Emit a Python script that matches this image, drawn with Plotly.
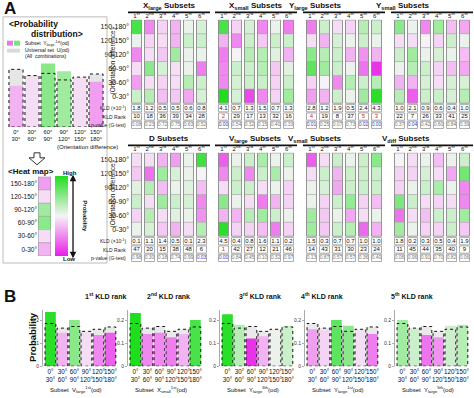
import plotly.graph_objects as go
from plotly.colors import sample_colorscale

W, H = 474, 398
FONT = "Arial, 'Liberation Sans', sans-serif"

# ---------------- data ----------------
ANGLE_LABELS = ["0-30°", "30-60°", "60-90°", "90-120°", "120-150°", "150-180°"]
ORDINALS = ["1<sup>st</sup>", "2<sup>nd</sup>", "3<sup>rd</sup>", "4<sup>th</sup>", "5<sup>th</sup>", "6<sup>th</sup>"]
BAR_TICKS = ["0°<br>30°", "30°<br>60°", "60°<br>90°", "90°<br>120°", "120°<br>150°", "150°<br>180°"]

# heat values per subset column, listed top (150-180°) -> bottom (0-30°); >0 green (high), <0 magenta (low)
X_LARGE = [[0.8, 0.05, -0.5, -0.1, -0.4, 0.2], [-0.5, -0.15, -0.1, 0.5, -0.1, 0.3],
           [-0.15, -0.1, -0.2, 0.15, -0.15, -0.25], [-0.3, -0.3, 0.4, -0.1, -0.1, -0.2],
           [0.05, 0.2, 0.05, 0.05, 0.3, -0.35], [0.15, 0.2, 0.05, -0.55, 0.2, 0.15]]
X_LARGE_KLD = [1.8, 1.2, 0.5, 0.5, 0.6, 0.8]
X_LARGE_RANK = [10, 18, 36, 39, 34, 28]
X_LARGE_P = [0.08, 0.23, 0.72, 0.75, 0.63, 0.52]

X_SMALL = [[0.8, -0.3, -0.55, -0.5, -0.5, 1.0], [-0.15, -0.5, 0.0, 0.2, 0.15, 0.15],
           [0.15, 0.2, 0.3, 0.2, 0.2, -0.8], [-0.5, -0.2, 0.3, 0.3, 0.2, -0.5],
           [0.05, 0.2, 0.1, -0.2, -0.15, -0.15], [-0.55, 0.2, -0.3, 0.1, 0.2, 0.4]]
X_SMALL_KLD = [4.1, 0.7, 1.3, 1.5, 0.7, 1.3]
X_SMALL_RANK = [2, 29, 17, 13, 32, 16]
X_SMALL_P = [0.00, 0.54, 0.32, 0.15, 0.40, 0.33]

Y_LARGE = [[-0.55, -0.1, 0.5, 0.7, -0.15, -0.4], [0.2, -0.3, 0.3, 0.4, 0.0, -0.3],
           [-0.1, 0.15, 0.2, 0.2, -0.5, 0.2], [-0.15, 0.05, -0.3, 0.05, 0.3, 0.05],
           [0.3, 0.2, -0.45, -0.6, 0.2, 0.4], [0.2, 0.05, -0.3, -0.9, 0.3, 0.95]]
Y_LARGE_KLD = [2.8, 1.2, 1.9, 0.5, 2.4, 4.3]
Y_LARGE_RANK = [4, 19, 8, 37, 5, 3]
Y_LARGE_P = [0.01, 0.25, 0.07, 0.73, 0.02, 0.00]

Y_SMALL = [[0.5, -0.1, 0.2, 0.05, -0.3, 0.3], [0.05, -0.1, 0.4, 0.3, -0.3, -0.7],
           [-0.5, 0.0, 0.05, 0.2, 0.15, 0.2], [0.4, -0.15, 0.15, -0.15, -0.1, 0.2],
           [-0.25, 0.2, 0.05, -0.25, 0.15, 0.15], [-0.35, 0.05, -0.25, -0.35, 0.15, 0.3]]
Y_SMALL_KLD = [1.0, 2.1, 0.9, 0.6, 0.4, 1.0]
Y_SMALL_RANK = [22, 7, 26, 33, 41, 25]
Y_SMALL_P = [0.37, 0.04, 0.42, 0.60, 0.84, 0.39]

D_SUB = [[-0.1, -0.2, 0.1, 0.2, -0.15, 0.05], [-0.1, -0.6, 0.3, -0.1, 0.3, 0.15],
         [-0.3, 0.4, -0.25, 0.4, -0.1, -0.2], [-0.4, 0.15, 0.05, 0.2, 0.1, -0.3],
         [0.05, 0.05, 0.1, 0.15, 0.05, -0.1], [0.85, 0.0, -0.25, -0.5, -0.45, 0.3]]
D_KLD = [0.1, 1.1, 1.4, 0.5, 0.1, 2.3]
D_RANK = [47, 20, 15, 38, 48, 6]
D_P = [0.98, 0.30, 0.18, 0.74, 0.99, 0.03]

V_LARGE = [[-0.7, -0.5, -0.1, 0.5, -0.3, 0.95], [0.05, 0.2, 0.2, 0.05, -0.3, -0.15],
           [0.2, -0.5, 0.2, -0.1, 0.3, -0.15], [0.35, 0.2, -0.1, -0.55, 0.4, -0.25],
           [0.05, 0.35, 0.05, -0.3, 0.2, -0.55], [0.2, 0.05, -0.15, -0.15, 0.05, -0.15]]
V_LARGE_KLD = [4.5, 0.4, 0.8, 1.6, 1.1, 0.2]
V_LARGE_RANK = [1, 42, 27, 12, 21, 46]
V_LARGE_P = [0.00, 0.84, 0.45, 0.10, 0.32, 0.97]

V_SMALL = [[-0.7, -0.1, 0.05, 0.05, 0.4, 0.4], [-0.1, 0.2, 0.15, -0.15, -0.2, -0.2],
           [0.2, -0.3, -0.35, 0.2, 0.05, 0.2], [0.05, 0.2, 0.2, 0.45, -0.35, 0.3],
           [0.2, 0.2, 0.2, -0.15, -0.1, -0.65], [0.5, 0.2, 0.2, -0.25, 0.05, -0.3]]
V_SMALL_KLD = [1.5, 0.3, 0.7, 0.7, 1.0, 1.0]
V_SMALL_RANK = [14, 43, 31, 30, 23, 24]
V_SMALL_P = [0.13, 0.87, 0.57, 0.57, 0.36, 0.40]

V_DIFF = [[0.0, -0.15, -0.15, 0.55, -0.6, 0.4], [-0.1, -0.15, 0.05, 0.2, -0.1, 0.05],
          [0.05, 0.15, 0.2, -0.1, -0.25, -0.15], [-0.25, -0.1, 0.35, -0.15, 0.2, -0.15],
          [0.05, -0.35, 0.05, -0.1, 0.2, 0.2], [0.2, 0.6, -0.5, -0.5, 0.4, -0.2]]
V_DIFF_KLD = [1.8, 0.2, 0.3, 0.5, 0.4, 1.9]
V_DIFF_RANK = [11, 45, 44, 35, 40, 9]
V_DIFF_P = [0.06, 0.96, 0.91, 0.70, 0.82, 0.06]

# schematic example (left box)
EXAMPLE_HEAT = [-0.4, -0.1, 0.4, 0.5, -0.1, -0.3]          # top -> bottom
EXAMPLE_SUBSET = [0.132, 0.157, 0.204, 0.179, 0.157, 0.145]  # 0-30 ... 150-180
UNIVERSAL = [0.185, 0.165, 0.172, 0.151, 0.160, 0.170]

# part B: top-5 KLD subsets
B_TITLES = ["1<sup>st</sup> KLD rank", "2<sup>nd</sup> KLD rank", "3<sup>rd</sup> KLD rank",
            "4<sup>th</sup> KLD rank", "5<sup>th</sup> KLD rank"]
B_SUBSETS = ["Subset  V<sub>large</sub><sup>1st</sup>(od)", "Subset  X<sub>small</sub><sup>1st</sup>(od)",
             "Subset  Y<sub>large</sub><sup>6th</sup>(od)", "Subset  Y<sub>large</sub><sup>1st</sup>(od)",
             "Subset  Y<sub>large</sub><sup>5th</sup>(od)"]
B1 = [0.235, 0.145, 0.200, 0.146, 0.135, 0.145]
B2 = [0.230, 0.140, 0.145, 0.125, 0.140, 0.200]
B3 = [0.225, 0.180, 0.120, 0.130, 0.155, 0.175]
B4 = [0.160, 0.155, 0.200, 0.175, 0.155, 0.140]
B5 = [0.200, 0.160, 0.135, 0.125, 0.175, 0.180]

# ---------------- helpers ----------------
def fx(p):
    return p / W

def fy(p):
    return 1 - p / H

CS = [[0.0, "rgb(232,30,232)"], [0.5, "rgb(246,243,246)"], [1.0, "rgb(30,222,30)"]]

def heat_color(v):
    t = min(max((v + 1) / 2, 0), 1)
    return sample_colorscale(CS, [t])[0]

def names(n):
    if n == 1:
        return "x", "y", "xaxis", "yaxis"
    return f"x{n}", f"y{n}", f"xaxis{n}", f"yaxis{n}"

fig = go.Figure()
shapes, annots, layout = [], [], {}

def ann(x, y, text, size, **kw):
    d = dict(x=fx(x), y=fy(y), xref="paper", yref="paper", text=text, showarrow=False,
             yanchor="middle", font=dict(size=size, family=FONT, color=kw.pop("color", "#111")))
    d.update(kw)
    annots.append(d)

PANELS = [
    ("X<sub>large</sub> Subsets", X_LARGE, X_LARGE_KLD, X_LARGE_RANK, X_LARGE_P),
    ("X<sub>small</sub> Subsets", X_SMALL, X_SMALL_KLD, X_SMALL_RANK, X_SMALL_P),
    ("Y<sub>large</sub> Subsets", Y_LARGE, Y_LARGE_KLD, Y_LARGE_RANK, Y_LARGE_P),
    ("Y<sub>small</sub> Subsets", Y_SMALL, Y_SMALL_KLD, Y_SMALL_RANK, Y_SMALL_P),
    ("D Subsets", D_SUB, D_KLD, D_RANK, D_P),
    ("V<sub>large</sub> Subsets", V_LARGE, V_LARGE_KLD, V_LARGE_RANK, V_LARGE_P),
    ("V<sub>small</sub> Subsets", V_SMALL, V_SMALL_KLD, V_SMALL_RANK, V_SMALL_P),
    ("V<sub>diff</sub> Subsets", V_DIFF, V_DIFF_KLD, V_DIFF_RANK, V_DIFF_P),
]
PANEL_X = [(130, 208), (217, 295), (305, 383), (393, 471)]
ROW_TOP = [20, 154]        # pixel top of heat cells
TITLE_Y = [6, 140]
UNIT = 14.0                # px per heat row
YR = [-2.4, 5.5]
TBL_Y = [-0.86, -1.46, -2.06]
GX = 1.5 / 13.0

for k, (title, cols, kld, rank, pv) in enumerate(PANELS):
    n = k + 1
    xa, ya, xk, yk = names(n)
    row = k // 4
    x0, x1 = PANEL_X[k % 4]
    top = ROW_TOP[row]
    bottom = top + (YR[1] - YR[0]) * UNIT
    z = [[cols[c][5 - r] for c in range(6)] for r in range(6)]
    fig.add_trace(go.Heatmap(z=z, x=list(range(6)), y=list(range(6)), colorscale=CS, zmin=-1, zmax=1,
                             showscale=False, xgap=3, ygap=0, xaxis=xa, yaxis=ya, hoverinfo="skip"))
    first = (k % 4 == 0)
    layout[xk] = dict(domain=[fx(x0), fx(x1)], range=[-0.5, 5.5], side="top", anchor=ya,
                      tickvals=list(range(6)), ticktext=ORDINALS, ticks="", showgrid=False, tickangle=0,
                      zeroline=False, showline=False, tickfont=dict(size=6, family=FONT, color="#111"))
    layout[yk] = dict(domain=[fy(bottom), fy(top)], range=YR, anchor=xa, showgrid=False, zeroline=False,
                      showline=False, ticks="", showticklabels=first, tickvals=list(range(6)),
                      ticktext=ANGLE_LABELS, tickfont=dict(size=7, family=FONT, color="#111"))
    # cell borders
    for c in range(6):
        shapes.append(dict(type="rect", xref=xa, yref=ya, x0=c - 0.5 + GX, x1=c + 0.5 - GX, y0=-0.5, y1=5.5,
                           line=dict(color="#8a8a8a", width=0.9)))
        for r in range(5):
            shapes.append(dict(type="line", xref=xa, yref=ya, x0=c - 0.5 + GX, x1=c + 0.5 - GX,
                               y0=r + 0.5, y1=r + 0.5, line=dict(color="#a0a0a0", width=0.6)))
        for yc in TBL_Y:
            shapes.append(dict(type="rect", xref=xa, yref=ya, x0=c - 0.5 + GX, x1=c + 0.5 - GX,
                               y0=yc - 0.26, y1=yc + 0.26, line=dict(color="#8a8a8a", width=0.7)))
    # table text, one trace per table row
    rows_txt = [[f"{v:.1f}" for v in kld], [str(v) for v in rank], [f"{v:.2f}" for v in pv]]
    rows_col = [["#111"] * 6, ["#e0201a" if v <= 5 else "#111" for v in rank],
                ["#3344cc" if v < 0.05 else "#777" for v in pv]]
    for j, yc in enumerate(TBL_Y):
        fig.add_trace(go.Scatter(x=list(range(6)), y=[yc] * 6, text=rows_txt[j], mode="text", xaxis=xa,
                                 yaxis=ya, hoverinfo="skip", cliponaxis=False, showlegend=False,
                                 textfont=dict(size=6 if j < 2 else 5, color=rows_col[j], family=FONT)))
    # title + underline
    ann((x0 + x1) / 2, TITLE_Y[row], f"<b>{title}</b>", 8)
    shapes.append(dict(type="line", xref="paper", yref="paper", x0=fx(x0 - 2), x1=fx(x1 + 2),
                       y0=fy(TITLE_Y[row] + 6.5), y1=fy(TITLE_Y[row] + 6.5), line=dict(color="#111", width=1.6)))
    if first:
        for txt, yc in zip(["KLD (×10<sup>-1</sup>)", "KLD Rank", "p-value (G-test)"], TBL_Y):
            annots.append(dict(x=fx(128), y=yc, xref="paper", yref=ya, text=txt, showarrow=False,
                               xanchor="right", yanchor="middle", font=dict(size=5, family=FONT, color="#222")))
        ann(107, top + 42, "(Orientation difference)", 6.5, textangle=-90)

# ---------------- left box ----------------
shapes.append(dict(type="rect", xref="paper", yref="paper", x0=fx(3), x1=fx(107), y0=fy(17), y1=fy(265),
                   line=dict(color="#bbbbbb", width=1)))
ann(2, 9, "<b>A</b>", 17, xanchor="left")
ann(7, 24, "<b>&lt;Probability</b>", 8.5, xanchor="left")
ann(29, 34, "<b>distribution&gt;</b>", 8.5, xanchor="left")
shapes.append(dict(type="rect", xref="paper", yref="paper", x0=fx(7), x1=fx(13), y0=fy(46), y1=fy(41),
                   fillcolor=heat_color(-0.6), line=dict(width=0)))
shapes.append(dict(type="rect", xref="paper", yref="paper", x0=fx(14), x1=fx(20), y0=fy(46), y1=fy(41),
                   fillcolor=heat_color(0.6), line=dict(width=0)))
ann(23, 43.5, "Subset  Y<sub>large</sub><sup>-1st</sup>(od)", 5, xanchor="left")
shapes.append(dict(type="rect", xref="paper", yref="paper", x0=fx(7), x1=fx(20), y0=fy(53), y1=fy(49),
                   fillcolor="#d9d9d9", line=dict(width=0)))
ann(23, 50, "Universal set  U(od)", 5, xanchor="left")
ann(23, 56, "(All  combinations)", 5, xanchor="left")

# example bar chart (axis 9)
xa, ya, xk, yk = names(9)
ex_colors = [heat_color(v) for v in EXAMPLE_HEAT[::-1]]
BW = 0.88
fig.add_trace(go.Bar(x=list(range(6)), y=UNIVERSAL, width=BW, marker=dict(color="#e6e6e6", line=dict(width=0)),
                     xaxis=xa, yaxis=ya, hoverinfo="skip", showlegend=False))
fig.add_trace(go.Bar(x=list(range(6)), y=EXAMPLE_SUBSET, width=BW, marker=dict(color=ex_colors, line=dict(width=0)),
                     xaxis=xa, yaxis=ya, hoverinfo="skip", showlegend=False))

def outline(vals, w):
    xs, ys = [], []
    for i, u in enumerate(vals):
        xs += [i - w / 2, i - w / 2, i + w / 2, i + w / 2, i - w / 2, None]
        ys += [0, u, u, 0, 0, None]
    return xs, ys

ox, oy = outline(UNIVERSAL, BW)
fig.add_trace(go.Scatter(x=ox, y=oy, mode="lines", line=dict(color="#111", width=1, dash="dot"),
                         xaxis=xa, yaxis=ya, hoverinfo="skip", showlegend=False))
layout[xk] = dict(domain=[fx(8), fx(104)], range=[-0.5, 5.5], anchor=ya, tickvals=list(range(6)),
                  ticktext=BAR_TICKS, ticks="", showgrid=False, zeroline=False, showline=False, tickangle=0,
                  tickfont=dict(size=5.8, family=FONT, color="#111"))
layout[yk] = dict(domain=[fy(128), fy(62)], range=[0, 0.21], anchor=xa, visible=False)
ann(55, 148.5, "(Orientation difference)", 6)

# hollow arrow
pts = [(34, 154), (40, 154), (40, 159), (45, 159), (37, 166), (29, 159), (34, 159)]
path = "M " + " L ".join(f"{fx(a):.5f},{fy(b):.5f}" for a, b in pts) + " Z"
shapes.append(dict(type="path", xref="paper", yref="paper", path=path, line=dict(color="#333", width=1),
                   fillcolor="white"))
ann(6, 173, "<b>&lt;Heat map&gt;</b>", 8, xanchor="left")

# example heat column (axis 10) with colour bar
xa, ya, xk, yk = names(10)
fig.add_trace(go.Heatmap(z=[[v] for v in EXAMPLE_HEAT[::-1]], x=[0], y=list(range(6)), colorscale=CS,
                         zmin=-1, zmax=1, xaxis=xa, yaxis=ya, hoverinfo="skip", showscale=True,
                         colorbar=dict(x=fx(55), xanchor="left", y=fy(218), yanchor="middle", len=80,
                                       lenmode="pixels", thickness=13, thicknessmode="pixels", xpad=0,
                                       ypad=0, outlinewidth=0, showticklabels=False, ticks="")))
layout[xk] = dict(domain=[fx(38), fx(51)], range=[-0.5, 0.5], anchor=ya, visible=False)
layout[yk] = dict(domain=[fy(258), fy(178)], range=[-0.5, 5.5], anchor=xa, showgrid=False, zeroline=False,
                  showline=False, ticks="", tickvals=list(range(6)), ticktext=ANGLE_LABELS,
                  tickfont=dict(size=6.5, family=FONT, color="#111"))
shapes.append(dict(type="rect", xref=xa, yref=ya, x0=-0.5, x1=0.5, y0=-0.5, y1=5.5,
                   line=dict(color="#8a8a8a", width=0.9)))
for r in range(5):
    shapes.append(dict(type="line", xref=xa, yref=ya, x0=-0.5, x1=0.5, y0=r + 0.5, y1=r + 0.5,
                       line=dict(color="#a0a0a0", width=0.6)))
ann(61, 174, "<b>High</b>", 6)
ann(61, 261, "<b>Low</b>", 6)
annots.append(dict(x=fx(73), y=fy(176), ax=0, ay=85, xref="paper", yref="paper", axref="pixel",
                   ayref="pixel", text="", showarrow=True, arrowhead=2, arrowsize=1, arrowwidth=1.3,
                   arrowside="end+start", arrowcolor="#111"))
ann(80, 218, "<b>Probability</b>", 6, textangle=90)

# ---------------- part B ----------------
ann(2, 299, "<b>B</b>", 17, xanchor="left")
B_SOURCES = [(V_LARGE, 0), (X_SMALL, 0), (Y_LARGE, 5), (Y_LARGE, 0), (Y_LARGE, 4)]
B_VALUES = [B1, B2, B3, B4, B5]
B_X = [(43, 117), (128, 202), (220, 294), (305, 379), (395, 469)]
BWB = 0.9
for i in range(5):
    n = 11 + i
    xa, ya, xk, yk = names(n)
    src, col = B_SOURCES[i]
    colors = [heat_color(v) for v in src[col][::-1]]
    fig.add_trace(go.Bar(x=list(range(6)), y=UNIVERSAL, width=BWB, marker=dict(color="#e9e9e9", line=dict(width=0)),
                         xaxis=xa, yaxis=ya, hoverinfo="skip", showlegend=False))
    fig.add_trace(go.Bar(x=list(range(6)), y=B_VALUES[i], width=BWB, marker=dict(color=colors, line=dict(width=0)),
                         xaxis=xa, yaxis=ya, hoverinfo="skip", showlegend=False))
    ox, oy = outline(UNIVERSAL, BWB)
    fig.add_trace(go.Scatter(x=ox, y=oy, mode="lines", line=dict(color="#111", width=1, dash="dot"),
                             xaxis=xa, yaxis=ya, hoverinfo="skip", showlegend=False))
    x0, x1 = B_X[i]
    layout[xk] = dict(domain=[fx(x0), fx(x1)], range=[-0.62, 5.55], anchor=ya, tickvals=list(range(6)),
                      ticktext=BAR_TICKS, ticks="", showgrid=False, zeroline=False, showline=False, tickangle=0,
                      tickfont=dict(size=6.3, family=FONT, color="#111"))
    layout[yk] = dict(domain=[fy(369), fy(312)], range=[0, 0.245], anchor=xa, tickvals=[0, 0.1, 0.2],
                      ticktext=["0", "0.1", "0.2"], showgrid=False, zeroline=False, showline=True,
                      linecolor="#aaaaaa", linewidth=1, ticks="outside", ticklen=2, tickcolor="#aaaaaa",
                      tickfont=dict(size=5, family=FONT, color="#333"))
    ann((x0 + x1) / 2 + 3, 298, f"<b>{B_TITLES[i]}</b>", 7)
    ann(x0 + 5, 392, B_SUBSETS[i], 6, xanchor="left")
ann(25, 340, "<b>Probability</b>", 9.5, textangle=-90)

fig.update_layout(width=W, height=H, margin=dict(l=0, r=0, t=0, b=0), paper_bgcolor="white",
                  plot_bgcolor="white", showlegend=False, barmode="overlay",
                  font=dict(family=FONT, size=7, color="#111"), shapes=shapes, annotations=annots, **layout)
fig.write_html("out.html", config={"displayModeBar": False, "staticPlot": True},
               post_script="document.body.style.margin='0px';")
